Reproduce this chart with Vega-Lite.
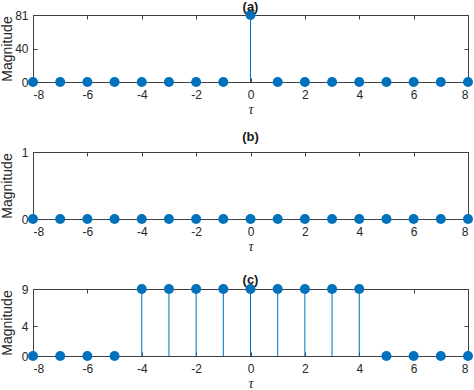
{
  "$schema": "https://vega.github.io/schema/vega-lite/v6.json",
  "padding": {"left": 0, "top": 0, "right": 0, "bottom": 0},
  "bounds": "flush",
  "spacing": 70,
  "datasets": {
    "a": [
      {"tau": -8, "mag": 0}, {"tau": -7, "mag": 0}, {"tau": -6, "mag": 0}, {"tau": -5, "mag": 0},
      {"tau": -4, "mag": 0}, {"tau": -3, "mag": 0}, {"tau": -2, "mag": 0}, {"tau": -1, "mag": 0},
      {"tau": 0, "mag": 81}, {"tau": 1, "mag": 0}, {"tau": 2, "mag": 0}, {"tau": 3, "mag": 0},
      {"tau": 4, "mag": 0}, {"tau": 5, "mag": 0}, {"tau": 6, "mag": 0}, {"tau": 7, "mag": 0}, {"tau": 8, "mag": 0}
    ],
    "b": [
      {"tau": -8, "mag": 0}, {"tau": -7, "mag": 0}, {"tau": -6, "mag": 0}, {"tau": -5, "mag": 0},
      {"tau": -4, "mag": 0}, {"tau": -3, "mag": 0}, {"tau": -2, "mag": 0}, {"tau": -1, "mag": 0},
      {"tau": 0, "mag": 0}, {"tau": 1, "mag": 0}, {"tau": 2, "mag": 0}, {"tau": 3, "mag": 0},
      {"tau": 4, "mag": 0}, {"tau": 5, "mag": 0}, {"tau": 6, "mag": 0}, {"tau": 7, "mag": 0}, {"tau": 8, "mag": 0}
    ],
    "c": [
      {"tau": -8, "mag": 0}, {"tau": -7, "mag": 0}, {"tau": -6, "mag": 0}, {"tau": -5, "mag": 0},
      {"tau": -4, "mag": 9}, {"tau": -3, "mag": 9}, {"tau": -2, "mag": 9}, {"tau": -1, "mag": 9},
      {"tau": 0, "mag": 9}, {"tau": 1, "mag": 9}, {"tau": 2, "mag": 9}, {"tau": 3, "mag": 9},
      {"tau": 4, "mag": 9}, {"tau": 5, "mag": 0}, {"tau": 6, "mag": 0}, {"tau": 7, "mag": 0}, {"tau": 8, "mag": 0}
    ]
  },
  "config": {
    "view": {"stroke": null},
    "font": "Liberation Sans",
    "axis": {
      "grid": false,
      "domainColor": "#404040",
      "tickColor": "#404040",
      "labelColor": "#262626",
      "titleColor": "#262626",
      "labelFont": "Liberation Sans",
      "titleFont": "Liberation Sans",
      "labelFontSize": 12,
      "titleFontSize": 14,
      "titleFontWeight": "normal",
      "tickSize": -4
    },
    "axisBottom": {"labelPadding": 11, "titleFont": "Liberation Serif", "titleFontStyle": "italic", "titleFontSize": 14, "titlePadding": 2.5},
    "axisTop": {"labelPadding": 0},
    "axisRight": {"labelPadding": 0},
    "axisLeft": {"labelPadding": 9},
    "title": {"font": "Liberation Sans", "fontSize": 13, "fontWeight": "bold", "color": "#1a1a1a", "offset": 2, "anchor": "middle"}
  },
  "vconcat": [
    {
      "width": 435, "height": 67,
      "title": {"text": "(a)", "offset": -4.6},
      "data": {"name": "a"},
      "layer": [
        {
          "mark": {"type": "rule", "color": "#0072BD", "strokeWidth": 1},
          "encoding": {
            "x": {"field": "tau", "type": "quantitative", "scale": {"domain": [-8, 8], "nice": false}, "axis": {"values": [-8, -6, -4, -2, 0, 2, 4, 6, 8], "labelExpr": "datum.value + ''", "title": "τ"}},
            "y": {"field": "mag", "type": "quantitative", "scale": {"domain": [0, 81], "nice": false}, "axis": {"values": [0, 40, 81], "labelExpr": "datum.value + ''", "title": "Magnitude", "titlePadding": 0}},
            "y2": {"datum": 0}
          }
        },
        {
          "mark": {"type": "point", "filled": true, "opacity": 1, "color": "#0072BD", "size": 100, "clip": false},
          "encoding": {
            "x": {"field": "tau", "type": "quantitative", "axis": {"orient": "top", "values": [-8, -6, -4, -2, 0, 2, 4, 6, 8], "labels": false, "title": null}},
            "y": {"field": "mag", "type": "quantitative", "axis": {"orient": "right", "values": [0, 40, 81], "labels": false, "title": null}}
          }
        }
      ],
      "resolve": {"axis": {"x": "independent", "y": "independent"}}
    },
    {
      "width": 435, "height": 67,
      "title": {"text": "(b)", "offset": 2},
      "data": {"name": "b"},
      "layer": [
        {
          "mark": {"type": "rule", "color": "#0072BD", "strokeWidth": 1},
          "encoding": {
            "x": {"field": "tau", "type": "quantitative", "scale": {"domain": [-8, 8], "nice": false}, "axis": {"values": [-8, -6, -4, -2, 0, 2, 4, 6, 8], "labelExpr": "datum.value + ''", "title": "τ"}},
            "y": {"field": "mag", "type": "quantitative", "scale": {"domain": [0, 1], "nice": false}, "axis": {"values": [0, 1], "labelExpr": "datum.value + ''", "title": "Magnitude", "titlePadding": 6.6}},
            "y2": {"datum": 0}
          }
        },
        {
          "mark": {"type": "point", "filled": true, "opacity": 1, "color": "#0072BD", "size": 100, "clip": false},
          "encoding": {
            "x": {"field": "tau", "type": "quantitative", "axis": {"orient": "top", "values": [-8, -6, -4, -2, 0, 2, 4, 6, 8], "labels": false, "title": null}},
            "y": {"field": "mag", "type": "quantitative", "axis": {"orient": "right", "values": [0, 1], "labels": false, "title": null}}
          }
        }
      ],
      "resolve": {"axis": {"x": "independent", "y": "independent"}}
    },
    {
      "width": 435, "height": 67,
      "title": {"text": "(c)", "offset": -3.6},
      "data": {"name": "c"},
      "layer": [
        {
          "mark": {"type": "rule", "color": "#0072BD", "strokeWidth": 1},
          "encoding": {
            "x": {"field": "tau", "type": "quantitative", "scale": {"domain": [-8, 8], "nice": false}, "axis": {"values": [-8, -6, -4, -2, 0, 2, 4, 6, 8], "labelExpr": "datum.value + ''", "title": "τ"}},
            "y": {"field": "mag", "type": "quantitative", "scale": {"domain": [0, 9], "nice": false}, "axis": {"values": [0, 4, 9], "labelExpr": "datum.value + ''", "title": "Magnitude", "titlePadding": 6.6}},
            "y2": {"datum": 0}
          }
        },
        {
          "mark": {"type": "point", "filled": true, "opacity": 1, "color": "#0072BD", "size": 100, "clip": false},
          "encoding": {
            "x": {"field": "tau", "type": "quantitative", "axis": {"orient": "top", "values": [-8, -6, -4, -2, 0, 2, 4, 6, 8], "labels": false, "title": null}},
            "y": {"field": "mag", "type": "quantitative", "axis": {"orient": "right", "values": [0, 4, 9], "labels": false, "title": null}}
          }
        }
      ],
      "resolve": {"axis": {"x": "independent", "y": "independent"}}
    }
  ]
}
